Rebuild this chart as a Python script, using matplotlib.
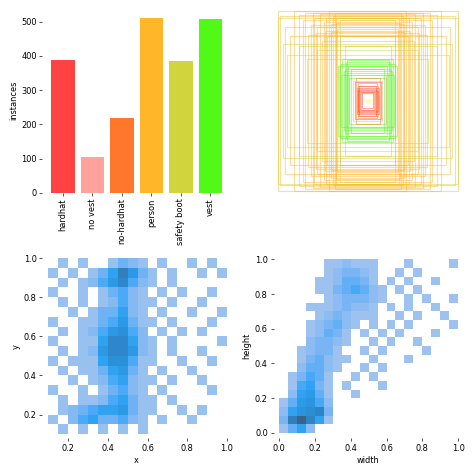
import matplotlib
matplotlib.use("Agg")
import matplotlib.pyplot as plt
from matplotlib.patches import Rectangle
import numpy as np
import seaborn as sns

CLASSES = ["hardhat", "no vest", "no-hardhat", "person", "safety boot", "vest"]
COUNTS = [388, 105, 218, 512, 385, 507]
COLORS = ["#FF3838", "#FF9D97", "#FF701F", "#FFB21D", "#CFD231", "#48F90A"]

# box sizes (class index, width, height) for the centred-box panel
BOXES = [
    (3, 0.95, 0.92), (3, 0.80, 0.98), (3, 0.70, 0.88), (3, 0.60, 0.95), (3, 0.55, 0.80),
    (3, 0.45, 0.90), (3, 0.40, 0.75), (3, 0.35, 0.85), (3, 0.30, 0.70), (3, 0.85, 0.70),
    (3, 0.50, 0.65), (3, 0.65, 0.72), (3, 0.90, 0.80), (3, 0.42, 0.98), (3, 0.25, 0.60),
    (3, 0.38, 0.92), (3, 0.48, 0.86), (3, 0.33, 0.78), (3, 0.58, 0.90), (3, 0.44, 0.70),
    (3, 0.36, 0.96), (3, 0.52, 0.94), (3, 0.40, 0.84), (3, 0.62, 0.82), (3, 0.75, 0.93),
    (3, 0.98, 0.98), (3, 0.46, 0.76), (3, 0.34, 0.90), (3, 0.56, 0.74), (3, 0.68, 0.96),
    (4, 0.98, 0.90), (4, 0.75, 0.60), (4, 0.55, 0.55), (4, 0.88, 0.50), (4, 0.30, 0.88),
    (4, 0.92, 0.62), (4, 0.66, 0.46),
    (5, 0.30, 0.40), (5, 0.25, 0.35), (5, 0.22, 0.30), (5, 0.28, 0.45), (5, 0.20, 0.25),
    (5, 0.18, 0.35), (5, 0.32, 0.38), (5, 0.24, 0.42), (5, 0.26, 0.32), (5, 0.21, 0.38),
    (5, 0.29, 0.28), (5, 0.23, 0.44),
    (0, 0.10, 0.12), (0, 0.08, 0.10), (0, 0.12, 0.14), (0, 0.06, 0.08), (0, 0.14, 0.20),
    (0, 0.09, 0.16), (0, 0.11, 0.11),
    (2, 0.09, 0.13), (2, 0.11, 0.16), (2, 0.07, 0.10), (2, 0.13, 0.25), (2, 0.10, 0.19),
    (1, 0.20, 0.28), (1, 0.16, 0.22),
]

# label-centre density, 20x20 cells over [0,1]; first row is y 0.95-1.0
XY_GRID = [
    "00010100132101001010",
    "00101013596310100101",
    "00010124684210100000",
    "00100101342101010010",
    "00010101242110100100",
    "00001013352101001001",
    "00100113463110100010",
    "00010124674201010100",
    "00100115885210100001",
    "00010126886210100100",
    "00101115774110010010",
    "00010113563101001000",
    "00001012452110100100",
    "00100101342101000010",
    "00010112453110100000",
    "00012345563110010100",
    "00102453342101001000",
    "00010101010100000000",
    "00000000000000000000",
    "00000000000000000000",
]

# label-size density (width across, height down); first row is height 0.95-1.0
WH_GRID = [
    "00000112111000100001",
    "00000123321001010000",
    "00001124431010100100",
    "00001134542101010000",
    "00000123332100101001",
    "00011123221010100100",
    "00001232111001010010",
    "00012342101010100001",
    "00012431010101000100",
    "00023321001010010000",
    "00123310010100001000",
    "00134211001000100000",
    "00244210010100000000",
    "01354100101000000000",
    "01563101000100000000",
    "02674100100000000000",
    "14785200000000000000",
    "2689a300000000000000",
    "3bfa6100000000000000",
    "14620000000000000000",
]


def grid_to_points(grid):
    n = len(grid)
    xs, ys, ws = [], [], []
    for r, row in enumerate(grid):
        for c, ch in enumerate(row):
            v = int(ch, 16)
            if v:
                xs.append((c + 0.5) / n)
                ys.append(1 - (r + 0.5) / n)
                ws.append(v)
    return xs, ys, ws


fig, axs = plt.subplots(2, 2, figsize=(8, 8), dpi=59.25)
ax = axs[0, 0]
ax.bar(range(len(CLASSES)), COUNTS, color=COLORS, alpha=0.95)
ax.set_ylabel("instances")
ax.set_xticks(range(len(CLASSES)))
ax.set_xticklabels(CLASSES, rotation=90)

ax = axs[0, 1]
for c, w, h in BOXES:
    ax.add_patch(Rectangle((0.5 - w / 2, 0.5 - h / 2), w, h, fill=False,
                           edgecolor=COLORS[c], alpha=0.45, lw=1.3))
ax.add_patch(Rectangle((0.49, 0.49), 0.02, 0.02, color="#FFFFAA"))
ax.set_xlim(0, 1)
ax.set_ylim(0, 1)
ax.set_aspect("equal")
ax.axis("off")

x, y, w = grid_to_points(XY_GRID)
sns.histplot(x=x, y=y, weights=w, ax=axs[1, 0], bins=20, binrange=(0, 1),
             vmin=0, vmax=14)
axs[1, 0].set_xlim(0.07, 1.02)
axs[1, 0].set_ylim(0.08, 1.02)
axs[1, 0].set_xlabel("x")
axs[1, 0].set_ylabel("y")

x, y, w = grid_to_points(WH_GRID)
sns.histplot(x=x, y=y, weights=w, ax=axs[1, 1], bins=20, binrange=(0, 1),
             vmin=0, vmax=17)
axs[1, 1].set_xlim(-0.03, 1.02)
axs[1, 1].set_ylim(-0.03, 1.03)
axs[1, 1].set_xlabel("width")
axs[1, 1].set_ylabel("height")

for a in axs.flat:
    for s in ["top", "right", "left", "bottom"]:
        a.spines[s].set_visible(False)

plt.tight_layout()
plt.savefig("out.png", dpi=59.25)
